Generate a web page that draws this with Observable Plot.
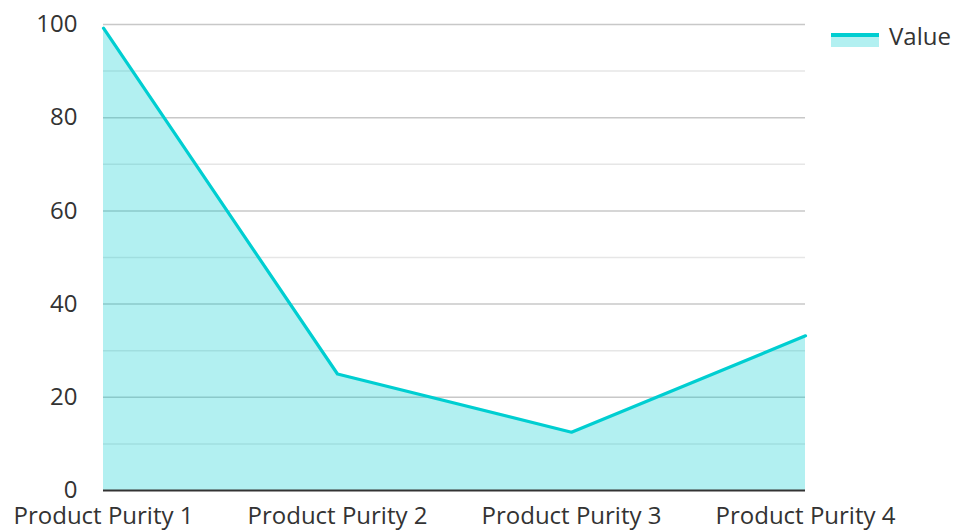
<!DOCTYPE html>
<html>
<head>
<meta charset="utf-8">
<script src="https://cdn.jsdelivr.net/npm/d3@7"></script>
<script src="https://cdn.jsdelivr.net/npm/@observablehq/plot@0.6"></script>
<style>
  html, body { margin: 0; padding: 0; background: #fff; }
  #wrap { position: relative; width: 954px; height: 531px; font-family: "Open Sans", sans-serif; }
  #legend { position: absolute; left: 831px; top: 19px; display: flex; align-items: center; font-size: 24px; color: #333; }
  #legend .sw { width: 48px; height: 14px; position: relative; margin-right: 10px; margin-top: 8px; }
  #legend .sw .fill { position: absolute; left: 0; top: 2px; width: 48px; height: 12px; background: rgba(0,206,209,0.3); }
  #legend .sw .ln { position: absolute; left: 0; top: 0; width: 48px; height: 4px; background: #00CED1; }
</style>
</head>
<body>
<div id="wrap">
  <div id="chart"></div>
  <div id="legend"><div class="sw"><div class="fill"></div><div class="ln"></div></div><span>Value</span></div>
</div>
<script>
const categories = ["Product Purity 1", "Product Purity 2", "Product Purity 3", "Product Purity 4"];
const values = [99.2, 25, 12.5, 33.2];
const seriesName = "Value";
const yTicks = [0, 20, 40, 60, 80, 100];
const yMinorTicks = [10, 30, 50, 70, 90];

const data = categories.map((c, i) => ({category: c, value: values[i]}));

const chart = Plot.plot({
  width: 954,
  height: 531,
  marginLeft: 103,
  marginRight: 149,
  marginTop: 24,
  marginBottom: 41,
  style: {fontFamily: "Open Sans, sans-serif", fontSize: "24px", color: "#333", background: "#fff"},
  x: {type: "point", domain: categories, padding: 0, label: null},
  y: {domain: [0, 100], label: null},
  marks: [
    Plot.ruleY(yMinorTicks, {stroke: "#e6e6e6", strokeWidth: 1.5}),
    Plot.ruleY(yTicks.filter(d => d > 0), {stroke: "#c8c8c8", strokeWidth: 1.5}),
    Plot.areaY(data, {x: "category", y: "value", fill: "#00CED1", fillOpacity: 0.3}),
    Plot.lineY(data, {x: "category", y: "value", stroke: "#00CED1", strokeWidth: 3.2}),
    Plot.ruleY([0], {stroke: "#333", strokeWidth: 2}),
    Plot.axisY(yTicks, {tickSize: 0, tickPadding: 26, fontSize: 24, fill: "#333"}),
    Plot.axisX(categories, {tickSize: 0, tickPadding: 16, fontSize: 24, fill: "#333"})
  ]
});
document.getElementById("chart").appendChild(chart);
</script>
</body>
</html>
